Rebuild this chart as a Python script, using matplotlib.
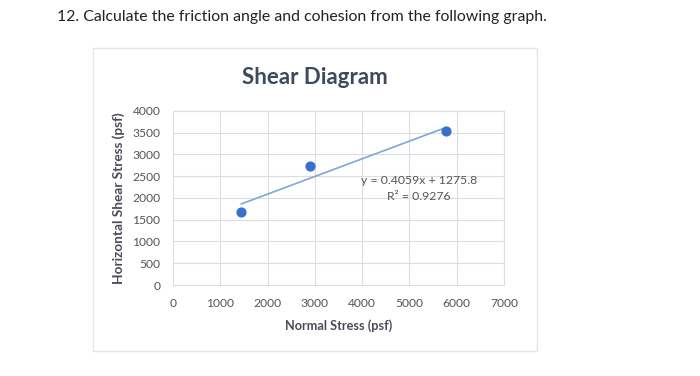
import numpy as np
import matplotlib.pyplot as plt
from matplotlib.patches import Rectangle

# datos
normal = [1450, 2900, 5770]        # esfuerzo normal (psf)
shear = [1670, 2730, 3530]         # esfuerzo cortante (psf)
pendiente = 0.4059
intercepto = 1275.8
r2 = 0.9276
xticks = [0, 1000, 2000, 3000, 4000, 5000, 6000, 7000]
yticks = [0, 500, 1000, 1500, 2000, 2500, 3000, 3500, 4000]

plt.rcParams['font.family'] = ['Lato', 'DejaVu Sans']

fig = plt.figure(figsize=(7, 3.76), dpi=100)
ax = fig.add_axes([0.247, 0.242, 0.473, 0.463])

# marco del grafico
fig.patches.append(Rectangle((93/700, 1-351/376), (537-93)/700, (351-48)/376,
                             transform=fig.transFigure, fill=False,
                             edgecolor='#e6e6ea', lw=1))

fig.text(57/700, 1-17/376, '12. Calculate the friction angle and cohesion from the following graph.',
         fontsize=11.4, color='#222222', va='center', ha='left')

ax.scatter(normal, shear, s=40, color='#3a6fcd', zorder=3)
xl = np.array([min(normal), max(normal)])
ax.plot(xl, pendiente*xl + intercepto, color='#7fa6da', lw=1.2, zorder=2)

ax.set_xlim(0, 7000)
ax.set_ylim(0, 4000)
ax.set_xticks(xticks)
ax.set_yticks(yticks)
ax.tick_params(length=0, labelsize=8.7, labelcolor='#555555', pad=9)
ax.grid(color='#dcdce4', lw=0.8)
ax.set_axisbelow(True)
for s in ax.spines.values():
    s.set_color('#dcdce4')
    s.set_linewidth(0.8)

# titulo centrado en el marco del grafico
fig.text(315/700, 1-78/376, 'Shear Diagram', fontsize=16, fontweight='bold',
         color='#3c4a5c', ha='center', va='center')
ax.set_xlabel('Normal Stress (psf)', fontsize=9.2, fontweight='bold', color='#4a4a5a', labelpad=8)
ax.set_ylabel('Horizontal Shear Stress (psf)', fontsize=9.8, fontweight='bold', color='#4a4a5a', labelpad=5)

ax.text(5200, 2220, f'y = {pendiente}x + {intercepto}\nR² = {r2}', fontsize=8.8, color='#555555',
        ha='center', va='center', linespacing=1.6)

plt.savefig('out.png', dpi=100)
